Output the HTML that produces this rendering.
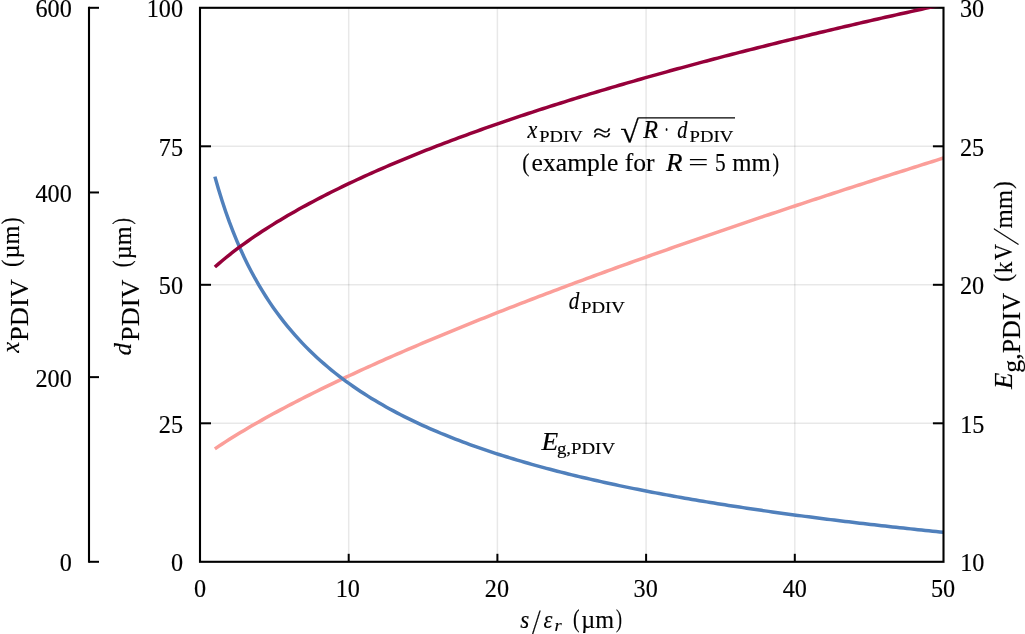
<!DOCTYPE html>
<html><head><meta charset="utf-8"><title>PDIV chart</title>
<style>
html,body{margin:0;padding:0;background:#fff;}
svg{display:block}
text{font-family:'Liberation Serif', serif;fill:#000;stroke:#000;stroke-width:0.15px;}
</style></head>
<body>
<svg width="1025" height="634" viewBox="0 0 1025 634">
<rect width="1025" height="634" fill="#fff"/>
<g stroke="#000" stroke-opacity="0.09" stroke-width="1.5">
<line x1="348.70" y1="7.80" x2="348.70" y2="561.80"/>
<line x1="497.40" y1="7.80" x2="497.40" y2="561.80"/>
<line x1="646.10" y1="7.80" x2="646.10" y2="561.80"/>
<line x1="794.80" y1="7.80" x2="794.80" y2="561.80"/>
<line x1="200.00" y1="423.30" x2="943.50" y2="423.30"/>
<line x1="200.00" y1="284.80" x2="943.50" y2="284.80"/>
<line x1="200.00" y1="146.30" x2="943.50" y2="146.30"/>
</g>
<clipPath id="cp"><rect x="200.0" y="7.8" width="743.5" height="554.0"/></clipPath>
<g fill="none" stroke-width="3.5" stroke-linejoin="round" clip-path="url(#cp)">
<path d="M214.87,448.86 L218.51,446.41 L222.16,444.01 L225.80,441.65 L229.44,439.33 L233.09,437.04 L236.73,434.79 L240.37,432.58 L244.02,430.39 L247.66,428.23 L251.30,426.10 L254.94,423.99 L258.59,421.91 L262.23,419.86 L265.87,417.82 L269.52,415.81 L273.16,413.81 L276.80,411.84 L280.45,409.88 L284.09,407.95 L287.73,406.03 L291.38,404.12 L295.02,402.23 L298.66,400.36 L302.31,398.50 L305.95,396.66 L309.59,394.83 L313.24,393.01 L316.88,391.21 L320.52,389.42 L324.16,387.64 L327.81,385.87 L331.45,384.12 L335.09,382.37 L338.74,380.64 L342.38,378.92 L346.02,377.20 L349.67,375.50 L353.31,373.81 L356.95,372.12 L360.60,370.45 L364.24,368.78 L367.88,367.13 L371.53,365.48 L375.17,363.84 L378.81,362.21 L382.45,360.58 L386.10,358.97 L389.74,357.36 L393.38,355.76 L397.03,354.16 L400.67,352.58 L404.31,351.00 L407.96,349.42 L411.60,347.86 L415.24,346.30 L418.89,344.74 L422.53,343.20 L426.17,341.66 L429.82,340.12 L433.46,338.59 L437.10,337.07 L440.75,335.55 L444.39,334.04 L448.03,332.54 L451.67,331.04 L455.32,329.54 L458.96,328.05 L462.60,326.57 L466.25,325.09 L469.89,323.61 L473.53,322.14 L477.18,320.68 L480.82,319.22 L484.46,317.76 L488.11,316.31 L491.75,314.87 L495.39,313.43 L499.04,311.99 L502.68,310.56 L506.32,309.13 L509.97,307.70 L513.61,306.28 L517.25,304.87 L520.89,303.46 L524.54,302.05 L528.18,300.65 L531.82,299.25 L535.47,297.85 L539.11,296.46 L542.75,295.07 L546.40,293.68 L550.04,292.30 L553.68,290.92 L557.33,289.55 L560.97,288.18 L564.61,286.81 L568.26,285.45 L571.90,284.09 L575.54,282.73 L579.18,281.38 L582.83,280.03 L586.47,278.68 L590.11,277.33 L593.76,275.99 L597.40,274.66 L601.04,273.32 L604.69,271.99 L608.33,270.66 L611.97,269.33 L615.62,268.01 L619.26,266.69 L622.90,265.37 L626.55,264.06 L630.19,262.75 L633.83,261.44 L637.48,260.13 L641.12,258.83 L644.76,257.53 L648.40,256.23 L652.05,254.94 L655.69,253.64 L659.33,252.35 L662.98,251.06 L666.62,249.78 L670.26,248.50 L673.91,247.22 L677.55,245.94 L681.19,244.66 L684.84,243.39 L688.48,242.12 L692.12,240.85 L695.77,239.59 L699.41,238.32 L703.05,237.06 L706.70,235.80 L710.34,234.55 L713.98,233.29 L717.62,232.04 L721.27,230.79 L724.91,229.54 L728.55,228.30 L732.20,227.05 L735.84,225.81 L739.48,224.57 L743.13,223.33 L746.77,222.10 L750.41,220.86 L754.06,219.63 L757.70,218.40 L761.34,217.18 L764.99,215.95 L768.63,214.73 L772.27,213.51 L775.92,212.29 L779.56,211.07 L783.20,209.85 L786.84,208.64 L790.49,207.43 L794.13,206.22 L797.77,205.01 L801.42,203.80 L805.06,202.60 L808.70,201.40 L812.35,200.19 L815.99,199.00 L819.63,197.80 L823.28,196.60 L826.92,195.41 L830.56,194.22 L834.21,193.02 L837.85,191.84 L841.49,190.65 L845.13,189.46 L848.78,188.28 L852.42,187.10 L856.06,185.92 L859.71,184.74 L863.35,183.56 L866.99,182.38 L870.64,181.21 L874.28,180.04 L877.92,178.86 L881.57,177.69 L885.21,176.53 L888.85,175.36 L892.50,174.19 L896.14,173.03 L899.78,171.87 L903.43,170.71 L907.07,169.55 L910.71,168.39 L914.35,167.23 L918.00,166.08 L921.64,164.93 L925.28,163.77 L928.93,162.62 L932.57,161.47 L936.21,160.33 L939.86,159.18 L943.50,158.03" stroke="#FB9E99"/>
<path d="M214.87,176.64 L218.51,189.32 L222.16,201.06 L225.80,211.97 L229.44,222.14 L233.09,231.65 L236.73,240.58 L240.37,248.98 L244.02,256.90 L247.66,264.39 L251.30,271.48 L254.94,278.22 L258.59,284.62 L262.23,290.72 L265.87,296.54 L269.52,302.10 L273.16,307.42 L276.80,312.52 L280.45,317.41 L284.09,322.10 L287.73,326.62 L291.38,330.96 L295.02,335.15 L298.66,339.19 L302.31,343.09 L305.95,346.85 L309.59,350.49 L313.24,354.01 L316.88,357.42 L320.52,360.73 L324.16,363.93 L327.81,367.04 L331.45,370.06 L335.09,373.00 L338.74,375.85 L342.38,378.62 L346.02,381.32 L349.67,383.95 L353.31,386.51 L356.95,389.01 L360.60,391.44 L364.24,393.81 L367.88,396.13 L371.53,398.39 L375.17,400.60 L378.81,402.75 L382.45,404.86 L386.10,406.92 L389.74,408.94 L393.38,410.91 L397.03,412.85 L400.67,414.74 L404.31,416.59 L407.96,418.40 L411.60,420.18 L415.24,421.92 L418.89,423.63 L422.53,425.31 L426.17,426.96 L429.82,428.57 L433.46,430.15 L437.10,431.71 L440.75,433.24 L444.39,434.74 L448.03,436.21 L451.67,437.66 L455.32,439.08 L458.96,440.48 L462.60,441.86 L466.25,443.21 L469.89,444.55 L473.53,445.86 L477.18,447.15 L480.82,448.41 L484.46,449.66 L488.11,450.89 L491.75,452.11 L495.39,453.30 L499.04,454.47 L502.68,455.63 L506.32,456.77 L509.97,457.90 L513.61,459.01 L517.25,460.10 L520.89,461.18 L524.54,462.24 L528.18,463.29 L531.82,464.32 L535.47,465.34 L539.11,466.35 L542.75,467.34 L546.40,468.32 L550.04,469.29 L553.68,470.25 L557.33,471.19 L560.97,472.12 L564.61,473.04 L568.26,473.95 L571.90,474.84 L575.54,475.73 L579.18,476.60 L582.83,477.47 L586.47,478.32 L590.11,479.17 L593.76,480.00 L597.40,480.83 L601.04,481.64 L604.69,482.45 L608.33,483.25 L611.97,484.04 L615.62,484.81 L619.26,485.59 L622.90,486.35 L626.55,487.10 L630.19,487.85 L633.83,488.59 L637.48,489.32 L641.12,490.04 L644.76,490.75 L648.40,491.46 L652.05,492.16 L655.69,492.86 L659.33,493.54 L662.98,494.22 L666.62,494.89 L670.26,495.56 L673.91,496.22 L677.55,496.87 L681.19,497.52 L684.84,498.16 L688.48,498.79 L692.12,499.42 L695.77,500.05 L699.41,500.66 L703.05,501.27 L706.70,501.88 L710.34,502.48 L713.98,503.07 L717.62,503.66 L721.27,504.24 L724.91,504.82 L728.55,505.40 L732.20,505.96 L735.84,506.53 L739.48,507.08 L743.13,507.64 L746.77,508.19 L750.41,508.73 L754.06,509.27 L757.70,509.80 L761.34,510.33 L764.99,510.86 L768.63,511.38 L772.27,511.90 L775.92,512.41 L779.56,512.92 L783.20,513.42 L786.84,513.93 L790.49,514.42 L794.13,514.91 L797.77,515.40 L801.42,515.89 L805.06,516.37 L808.70,516.85 L812.35,517.32 L815.99,517.79 L819.63,518.26 L823.28,518.72 L826.92,519.18 L830.56,519.63 L834.21,520.09 L837.85,520.54 L841.49,520.98 L845.13,521.42 L848.78,521.86 L852.42,522.30 L856.06,522.73 L859.71,523.16 L863.35,523.59 L866.99,524.01 L870.64,524.43 L874.28,524.85 L877.92,525.26 L881.57,525.68 L885.21,526.09 L888.85,526.49 L892.50,526.89 L896.14,527.30 L899.78,527.69 L903.43,528.09 L907.07,528.48 L910.71,528.87 L914.35,529.26 L918.00,529.64 L921.64,530.02 L925.28,530.40 L928.93,530.78 L932.57,531.16 L936.21,531.53 L939.86,531.90 L943.50,532.27" stroke="#5080BC"/>
</g>
<line x1="89.00" y1="561.80" x2="99.00" y2="561.80" stroke="#000" stroke-width="2" stroke-linecap="butt"/>
<line x1="89.00" y1="377.13" x2="99.00" y2="377.13" stroke="#000" stroke-width="2" stroke-linecap="butt"/>
<line x1="89.00" y1="192.47" x2="99.00" y2="192.47" stroke="#000" stroke-width="2" stroke-linecap="butt"/>
<line x1="89.00" y1="7.80" x2="99.00" y2="7.80" stroke="#000" stroke-width="2" stroke-linecap="butt"/>
<line x1="200.00" y1="423.30" x2="211.00" y2="423.30" stroke="#000" stroke-width="2" stroke-linecap="butt"/>
<line x1="932.90" y1="423.30" x2="943.50" y2="423.30" stroke="#000" stroke-width="2" stroke-linecap="butt"/>
<line x1="200.00" y1="284.80" x2="211.00" y2="284.80" stroke="#000" stroke-width="2" stroke-linecap="butt"/>
<line x1="932.90" y1="284.80" x2="943.50" y2="284.80" stroke="#000" stroke-width="2" stroke-linecap="butt"/>
<line x1="200.00" y1="146.30" x2="211.00" y2="146.30" stroke="#000" stroke-width="2" stroke-linecap="butt"/>
<line x1="932.90" y1="146.30" x2="943.50" y2="146.30" stroke="#000" stroke-width="2" stroke-linecap="butt"/>
<line x1="348.70" y1="561.80" x2="348.70" y2="553.80" stroke="#000" stroke-width="2" stroke-linecap="butt"/>
<line x1="497.40" y1="561.80" x2="497.40" y2="553.80" stroke="#000" stroke-width="2" stroke-linecap="butt"/>
<line x1="646.10" y1="561.80" x2="646.10" y2="553.80" stroke="#000" stroke-width="2" stroke-linecap="butt"/>
<line x1="794.80" y1="561.80" x2="794.80" y2="553.80" stroke="#000" stroke-width="2" stroke-linecap="butt"/>
<line x1="89.00" y1="6.80" x2="89.00" y2="562.80" stroke="#000" stroke-width="2.1" stroke-linecap="butt"/>
<rect x="200.00" y="7.80" width="743.50" height="554.00" fill="none" stroke="#000" stroke-width="2.1"/>
<path d="M214.87,267.01 L218.51,263.83 L222.16,260.75 L225.80,257.75 L229.44,254.82 L233.09,251.97 L236.73,249.19 L240.37,246.47 L244.02,243.82 L247.66,241.22 L251.30,238.67 L254.94,236.17 L258.59,233.72 L262.23,231.32 L265.87,228.96 L269.52,226.64 L273.16,224.36 L276.80,222.11 L280.45,219.91 L284.09,217.73 L287.73,215.59 L291.38,213.48 L295.02,211.40 L298.66,209.35 L302.31,207.33 L305.95,205.34 L309.59,203.37 L313.24,201.42 L316.88,199.50 L320.52,197.61 L324.16,195.73 L327.81,193.88 L331.45,192.05 L335.09,190.24 L338.74,188.45 L342.38,186.67 L346.02,184.92 L349.67,183.19 L353.31,181.47 L356.95,179.77 L360.60,178.09 L364.24,176.42 L367.88,174.77 L371.53,173.14 L375.17,171.52 L378.81,169.91 L382.45,168.32 L386.10,166.74 L389.74,165.18 L393.38,163.63 L397.03,162.09 L400.67,160.57 L404.31,159.06 L407.96,157.56 L411.60,156.07 L415.24,154.59 L418.89,153.13 L422.53,151.67 L426.17,150.23 L429.82,148.80 L433.46,147.38 L437.10,145.97 L440.75,144.57 L444.39,143.17 L448.03,141.79 L451.67,140.42 L455.32,139.06 L458.96,137.71 L462.60,136.36 L466.25,135.03 L469.89,133.70 L473.53,132.38 L477.18,131.07 L480.82,129.77 L484.46,128.47 L488.11,127.19 L491.75,125.91 L495.39,124.64 L499.04,123.38 L502.68,122.12 L506.32,120.87 L509.97,119.63 L513.61,118.40 L517.25,117.17 L520.89,115.95 L524.54,114.74 L528.18,113.53 L531.82,112.33 L535.47,111.14 L539.11,109.95 L542.75,108.77 L546.40,107.60 L550.04,106.43 L553.68,105.27 L557.33,104.11 L560.97,102.96 L564.61,101.81 L568.26,100.67 L571.90,99.54 L575.54,98.41 L579.18,97.29 L582.83,96.17 L586.47,95.06 L590.11,93.95 L593.76,92.85 L597.40,91.76 L601.04,90.66 L604.69,89.58 L608.33,88.50 L611.97,87.42 L615.62,86.35 L619.26,85.28 L622.90,84.22 L626.55,83.16 L630.19,82.11 L633.83,81.06 L637.48,80.02 L641.12,78.98 L644.76,77.94 L648.40,76.91 L652.05,75.88 L655.69,74.86 L659.33,73.84 L662.98,72.83 L666.62,71.82 L670.26,70.81 L673.91,69.81 L677.55,68.81 L681.19,67.82 L684.84,66.83 L688.48,65.84 L692.12,64.86 L695.77,63.88 L699.41,62.90 L703.05,61.93 L706.70,60.96 L710.34,60.00 L713.98,59.04 L717.62,58.08 L721.27,57.13 L724.91,56.18 L728.55,55.23 L732.20,54.29 L735.84,53.35 L739.48,52.41 L743.13,51.48 L746.77,50.54 L750.41,49.62 L754.06,48.69 L757.70,47.77 L761.34,46.85 L764.99,45.94 L768.63,45.03 L772.27,44.12 L775.92,43.21 L779.56,42.31 L783.20,41.41 L786.84,40.52 L790.49,39.62 L794.13,38.73 L797.77,37.84 L801.42,36.96 L805.06,36.08 L808.70,35.20 L812.35,34.32 L815.99,33.45 L819.63,32.57 L823.28,31.71 L826.92,30.84 L830.56,29.98 L834.21,29.12 L837.85,28.26 L841.49,27.40 L845.13,26.55 L848.78,25.70 L852.42,24.85 L856.06,24.01 L859.71,23.16 L863.35,22.32 L866.99,21.48 L870.64,20.65 L874.28,19.82 L877.92,18.99 L881.57,18.16 L885.21,17.33 L888.85,16.51 L892.50,15.69 L896.14,14.87 L899.78,14.05 L903.43,13.23 L907.07,12.42 L910.71,11.61 L914.35,10.80 L918.00,10.00 L921.64,9.19 L925.28,8.39 L928.93,7.59 L932.57,6.80 L936.21,6.00 L939.86,5.21 L943.50,4.42" stroke="#96003A" fill="none" stroke-width="3.5" stroke-linejoin="round" clip-path="url(#cp)"/>
<g>
<text transform="translate(35.51,17.30)" font-size="24.2">600</text>
<text transform="translate(35.51,201.97)" font-size="24.2">400</text>
<text transform="translate(35.51,386.63)" font-size="24.2">200</text>
<text transform="translate(59.70,571.30)" font-size="24.2">0</text>
<text transform="translate(146.71,17.30)" font-size="24.2">100</text>
<text transform="translate(158.81,155.80)" font-size="24.2">75</text>
<text transform="translate(158.81,294.30)" font-size="24.2">50</text>
<text transform="translate(158.81,432.80)" font-size="24.2">25</text>
<text transform="translate(170.90,571.30)" font-size="24.2">0</text>
<text transform="translate(960.00,17.30)" font-size="24.2">30</text>
<text transform="translate(960.00,155.80)" font-size="24.2">25</text>
<text transform="translate(960.00,294.30)" font-size="24.2">20</text>
<text transform="translate(960.20,432.80)" font-size="24.2">15</text>
<text transform="translate(960.20,571.30)" font-size="24.2">10</text>
<text transform="translate(194.00,596.60)" font-size="24.2">0</text>
<text transform="translate(335.65,596.60)" font-size="24.2">10</text>
<text transform="translate(484.85,596.60)" font-size="24.2">20</text>
<text transform="translate(633.55,596.60)" font-size="24.2">30</text>
<text transform="translate(782.75,596.60)" font-size="24.2">40</text>
<text transform="translate(930.95,596.60)" font-size="24.2">50</text>
<text transform="translate(527.51,138.00) scale(0.9083,1.0000)" font-size="24.5" font-style="italic">x</text>
<text transform="translate(539.30,141.50) scale(1.1178,1.0000)" font-size="16.6">PDIV</text>
<text transform="translate(592.90,140.50) scale(1.3615,1.0000)" font-size="24.5">≈</text>
<text transform="translate(643.28,138.00) scale(0.9813,1.0000)" font-size="24.6" font-style="italic">R</text>
<text transform="translate(664.15,138.00) scale(0.5750,1.0000)" font-size="24.5">·</text>
<text transform="translate(677.20,138.00) scale(0.8308,1.0000)" font-size="24.6" font-style="italic">d</text>
<text transform="translate(689.50,141.50) scale(1.1281,1.0000)" font-size="16.6">PDIV</text>
<text transform="translate(620.20,142.40) scale(1.3857,1.2600)" font-size="24.5">√</text>
<text transform="translate(522.33,170.75) scale(0.8714,1.0250)" font-size="24.5">(</text>
<text transform="translate(531.60,170.50) scale(1.0458,1.0000)" font-size="24.5">example for</text>
<text transform="translate(666.00,170.50) scale(1.1000,1.0000)" font-size="24.6" font-style="italic">R</text>
<text transform="translate(688.34,170.50) scale(1.4583,1.0000)" font-size="24.5">=</text>
<text transform="translate(714.93,170.50) scale(0.8727,1.0000)" font-size="24.5">5</text>
<text transform="translate(732.20,170.50) scale(1.0116,1.0000)" font-size="24.5">mm</text>
<text transform="translate(772.60,170.75) scale(0.8125,1.0250)" font-size="24.5">)</text>
<text transform="translate(568.70,309.40) scale(0.8615,1.0000)" font-size="24.6" font-style="italic">d</text>
<text transform="translate(581.00,312.80) scale(1.1333,1.0000)" font-size="16.6">PDIV</text>
<text transform="translate(541.61,450.30) scale(1.1125,1.0000)" font-size="24.6" font-style="italic">E</text>
<text transform="translate(556.90,453.90) scale(1.1351,1.0000)" font-size="16.6">g,PDIV</text>
<text transform="translate(520.20,627.50) scale(0.9444,1.0000)" font-size="24.5" font-style="italic">s</text>
<text transform="translate(532.10,633.60) skewX(-4.417) scale(1,1.4471)" font-size="24.5">/</text>
<text transform="translate(543.40,627.50) scale(0.9200,1.0000)" font-size="24.5" font-style="italic">ε</text>
<text transform="translate(554.40,631.20) scale(1.1143,1.0000)" font-size="16.6" font-style="italic">r</text>
<text transform="translate(573.00,627.40) scale(0.8000,1.0333)" font-size="24.5">(</text>
<text transform="translate(581.30,627.50) scale(0.9874,1.0000)" font-size="24.5">µm</text>
<text transform="translate(616.10,627.40) scale(0.7375,1.0333)" font-size="24.5">)</text>
</g>
<g transform="rotate(-90)">
<text transform="translate(-352.69,19.00) scale(1.0083,1.0000)" font-size="24.5" font-style="italic">x</text>
<text transform="translate(-340.90,27.50) scale(1.0776,1.0000)" font-size="24.6">PDIV</text>
<text transform="translate(-267.11,19.00) scale(0.9143,1.0333)" font-size="24.5">(</text>
<text transform="translate(-258.60,18.80) scale(0.9905,1.0000)" font-size="24.5">µm</text>
<text transform="translate(-223.90,19.00) scale(0.7625,1.0333)" font-size="24.5">)</text>
<text transform="translate(-355.20,131.00) scale(0.9846,1.0000)" font-size="24.6" font-style="italic">d</text>
<text transform="translate(-341.00,139.00) scale(1.0724,1.0000)" font-size="24.6">PDIV</text>
<text transform="translate(-267.24,130.03) scale(0.8429,1.0625)" font-size="24.5">(</text>
<text transform="translate(-259.20,131.00) scale(0.9905,1.0000)" font-size="24.5">µm</text>
<text transform="translate(-224.50,130.03) scale(0.7875,1.0625)" font-size="24.5">)</text>
<text transform="translate(-389.11,1012.00) scale(1.0938,1.0000)" font-size="24.6" font-style="italic">E</text>
<text transform="translate(-372.75,1020.00) scale(1.0536,1.0000)" font-size="24.6">g,PDIV</text>
<text transform="translate(-281.64,1011.27) scale(0.9429,1.0542)" font-size="24.5">(</text>
<text transform="translate(-273.20,1012.00) scale(0.9462,1.0000)" font-size="24.5">k</text>
<text transform="translate(-260.00,1012.00) scale(0.9000,1.0000)" font-size="24.5">V</text>
<text transform="translate(-244.80,1017.60) skewX(-21.762) scale(1,1.4882)" font-size="24.5">/</text>
<text transform="translate(-228.50,1012.00) scale(1.0143,1.0000)" font-size="24.5">mm</text>
<text transform="translate(-188.90,1011.27) scale(0.9500,1.0542)" font-size="24.5">)</text>
</g>
<!-- square root sign -->
<line x1="638.4" y1="117.8" x2="735" y2="117.8" stroke="#000" stroke-width="1.2"/>
</svg>
</body></html>
